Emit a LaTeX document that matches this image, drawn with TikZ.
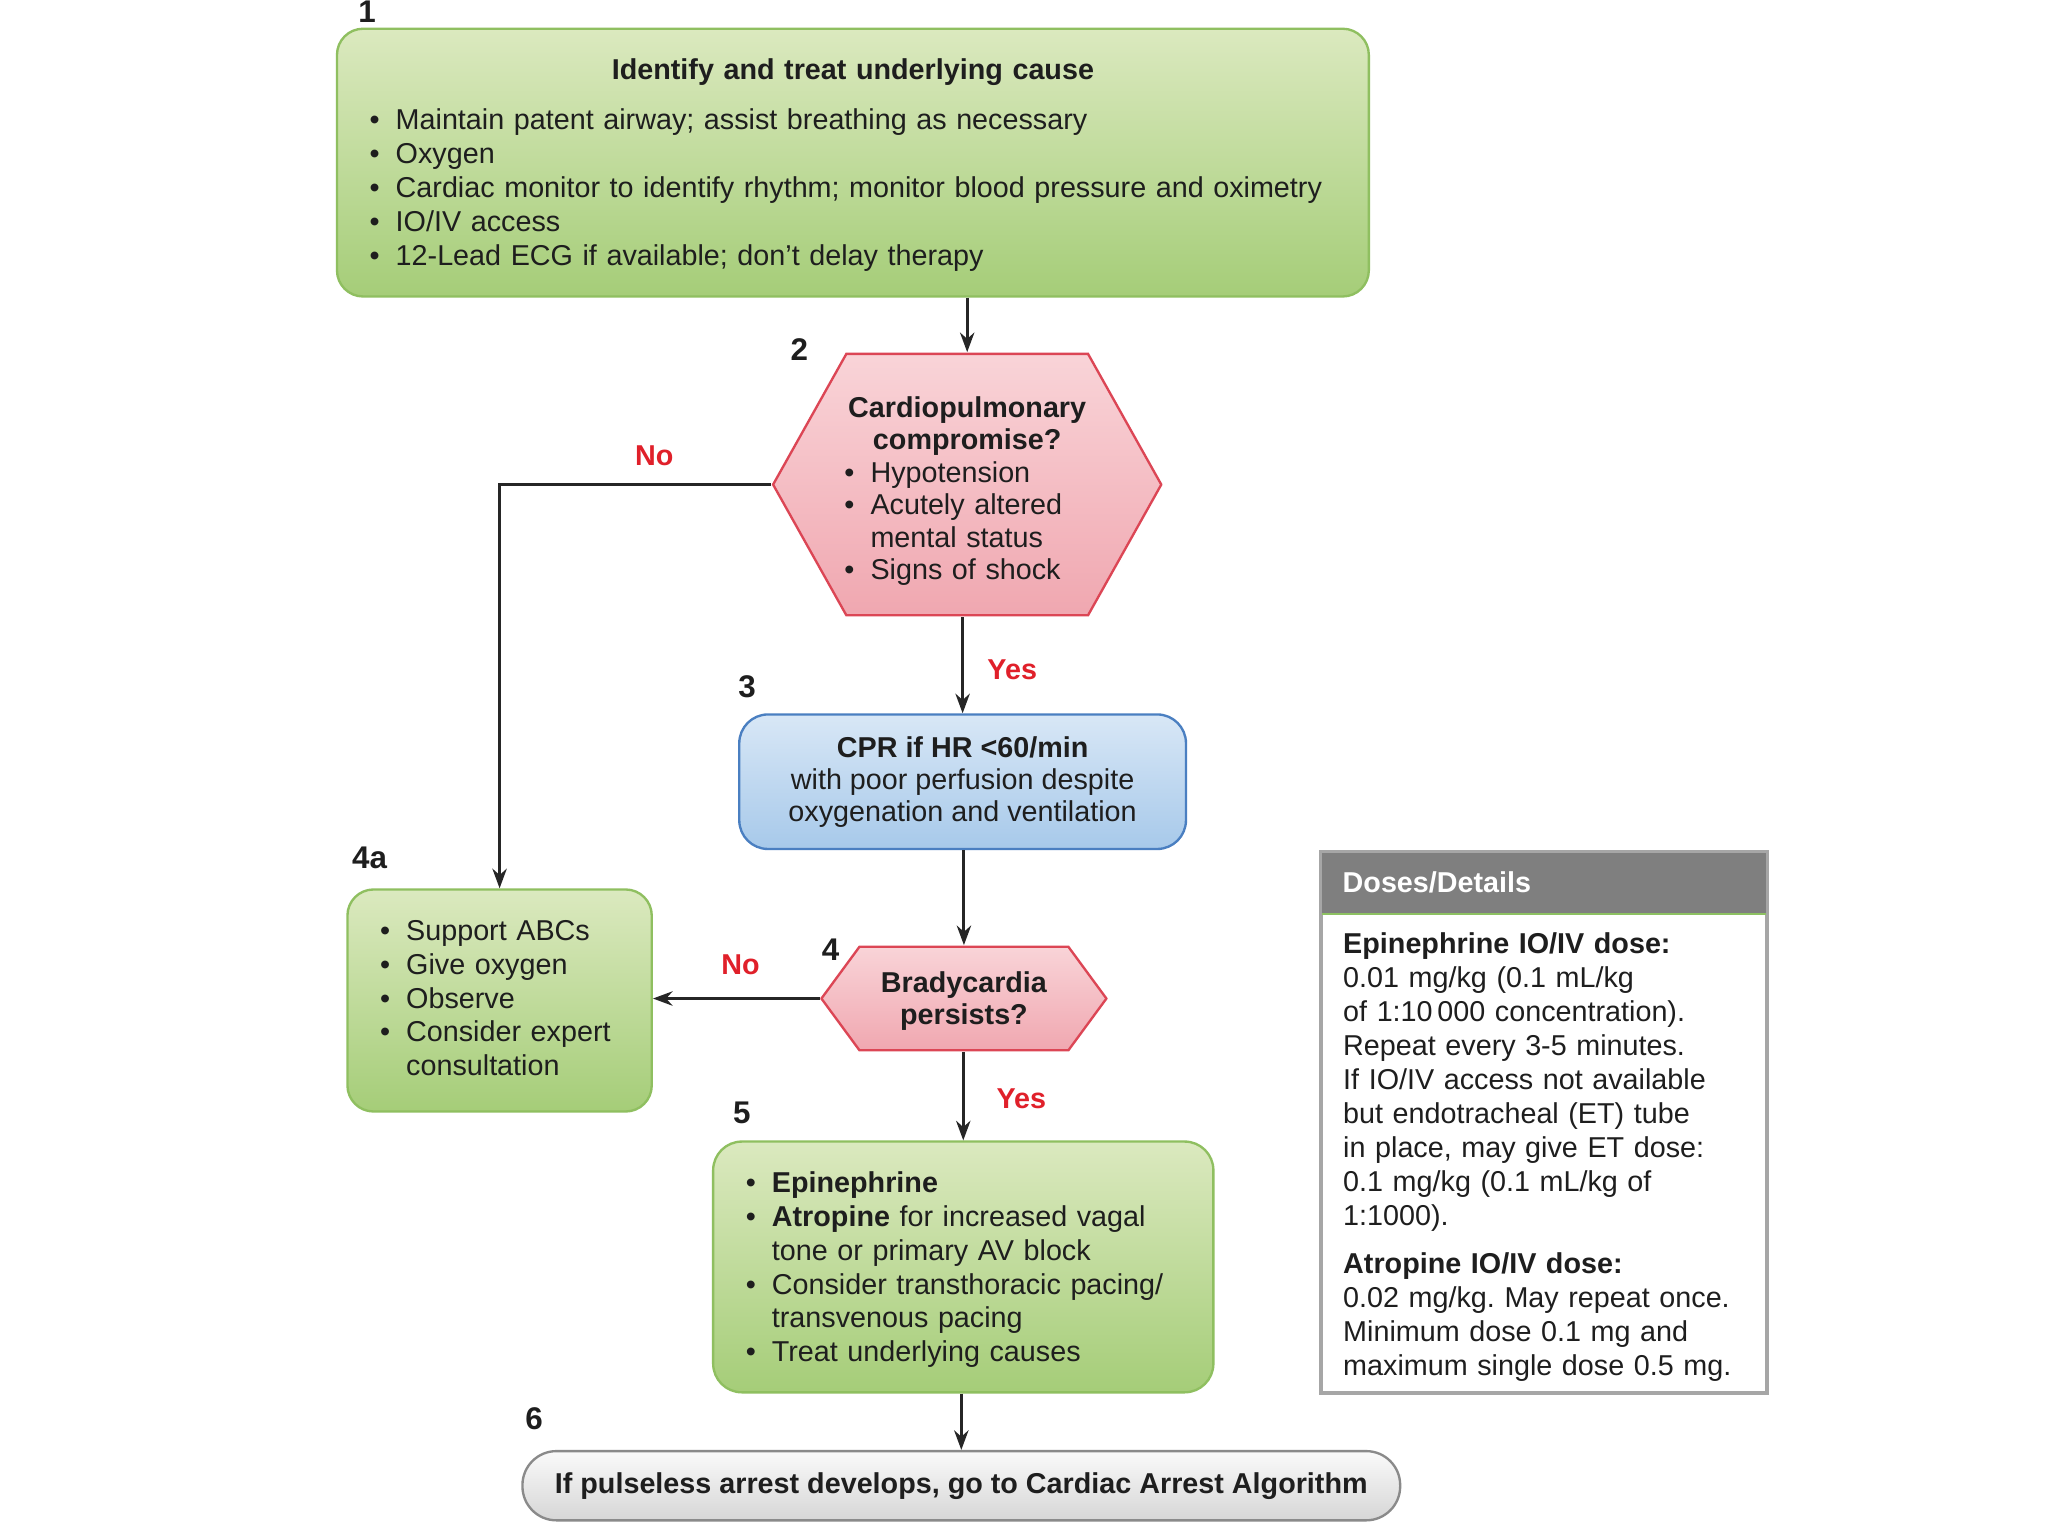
\documentclass[tikz,border=0pt]{standalone}
\usepackage{fontspec}
\setmainfont{Liberation Sans}
\usetikzlibrary{arrows.meta}
\hyphenpenalty=10000
\exhyphenpenalty=10000
\frenchspacing
\definecolor{grnt}{HTML}{DBE9BF}
\definecolor{grnbot}{HTML}{A5CD78}
\definecolor{grnline}{HTML}{8FBF60}
\definecolor{pinkt}{HTML}{F9D4D8}
\definecolor{pinkb}{HTML}{F0A7B0}
\definecolor{pinkline}{HTML}{DC4655}
\definecolor{bluet}{HTML}{D8E7F6}
\definecolor{blueb}{HTML}{A7C9EA}
\definecolor{blueline}{HTML}{4A7FC1}
\definecolor{grayt}{HTML}{FAFAFA}
\definecolor{grayb}{HTML}{D6D6D6}
\definecolor{grayline}{HTML}{8A8A8A}
\definecolor{hdrgray}{HTML}{7F7F7F}
\definecolor{hdrline}{HTML}{8DC162}
\definecolor{doseborder}{HTML}{A6A6A6}
\definecolor{lblred}{HTML}{E0202A}
\definecolor{txt}{HTML}{1E1E1E}
\newcommand\bitem[1]{\par\noindent\hangindent=10pt\hangafter=1\makebox[10pt][l]{\textbullet}#1\par}
\newcommand\lbrk{\hfil\break}
\newcommand\topgap[1]{\rule{0pt}{#1}}
\newcommand\botgap[1]{\par\vspace{#1}\hrule height0pt width0pt}
\tikzset{
  txtbase/.style={font=\fontsize{11}{13}\selectfont, text=txt, inner sep=0pt},
  greenbox/.style={txtbase, rounded corners=10pt, draw=grnline, line width=0.9pt, top color=grnt, bottom color=grnbot},
  bluebox/.style={txtbase, rounded corners=11pt, draw=blueline, line width=0.9pt, top color=bluet, bottom color=blueb},
  graybox/.style={txtbase, rounded corners=13pt, draw=grayline, line width=0.9pt, top color=grayt, bottom color=grayb},
  hexa/.style={txtbase, fill=white, path picture={
    \shade[top color=pinkt, bottom color=pinkb, draw=pinkline, line width=0.9pt]
      ([xshift=#1, yshift=-0.45pt]path picture bounding box.north west) --
      ([xshift=-#1, yshift=-0.45pt]path picture bounding box.north east) --
      ([xshift=-0.45pt]path picture bounding box.east) --
      ([xshift=-#1, yshift=0.45pt]path picture bounding box.south east) --
      ([xshift=#1, yshift=0.45pt]path picture bounding box.south west) --
      ([xshift=0.45pt]path picture bounding box.west) -- cycle;
  }},
  numlbl/.style={font=\fontsize{12}{14}\selectfont\bfseries, text=txt, inner sep=0pt},
  yesno/.style={font=\fontsize{11}{13}\selectfont\bfseries, text=lblred, inner sep=0pt},
  arr/.style={-{Stealth[length=7.5pt,width=5.5pt]}, line width=1.1pt, draw=black!85}
}
\begin{document}
\begin{tikzpicture}[x=0.5pt, y=-0.5pt]
\fill[white] (0,0) rectangle (1568,1176);
\useasboundingbox (0,0) rectangle (1568,1176);

% 1
\node[greenbox, minimum width=395pt, minimum height=102.5pt, text width=370pt, align=left] (n1) at (653,124.5) {%
\makebox[\linewidth]{\topgap{10pt}\bfseries Identify and treat underlying cause}\par\vspace{6pt}%
\bitem{Maintain patent airway; assist breathing as necessary}%
\bitem{Oxygen}%
\bitem{Cardiac monitor to identify rhythm; monitor blood pressure and oximetry}%
\bitem{IO/IV access}%
\bitem{12-Lead ECG if available; don\char"27 t delay therapy}};

% 2
\node[hexa=28.5pt, minimum width=149.5pt, minimum height=101pt, text width=94pt, align=left, font=\fontsize{11}{12.4}\selectfont] (n2) at (740.5,371) {%
\makebox[\linewidth]{\topgap{13pt}\bfseries Cardiopulmonary}\par
\makebox[\linewidth]{\bfseries compromise?}\par
\bitem{Hypotension}%
\bitem{Acutely altered\lbrk mental status}%
\bitem{Signs of shock}};

% 3
\node[bluebox, minimum width=171pt, minimum height=51.5pt, align=center, font=\fontsize{11}{12.3}\selectfont] (n3) at (737,598.5) {%
{\bfseries CPR if HR <60/min}\\with poor perfusion despite\\oxygenation and ventilation};

% 4
\node[hexa=15pt, minimum width=110pt, minimum height=40.5pt, text width=100pt, align=center, font=\fontsize{11}{12.5}\selectfont\bfseries] (n4) at (738,764.5) {\topgap{10pt}Bradycardia\\persists?};

% 4a
\node[greenbox, minimum width=116.5pt, minimum height=85pt, text width=91.5pt, align=left, font=\fontsize{11}{12.9}\selectfont] (n4a) at (382.5,766) {%
\bitem{Support ABCs}%
\bitem{Give oxygen}%
\bitem{Observe}%
\bitem{Consider expert\lbrk consultation}\botgap{7pt}};

% 5
\node[greenbox, rounded corners=11pt, minimum width=191.5pt, minimum height=96pt, text width=166.5pt, align=left] (n5) at (737.5,970) {%
\bitem{\textbf{Epinephrine}}%
\bitem{\textbf{Atropine} for increased vagal\lbrk tone or primary AV block}%
\bitem{Consider transthoracic pacing/\lbrk transvenous pacing}%
\bitem{Treat underlying causes}\botgap{3pt}};

% 6
\node[graybox, minimum width=336pt, minimum height=26.5pt, font=\fontsize{11}{13}\selectfont\bfseries] (n6) at (736,1137.5) {If pulseless arrest develops, go to Cardiac Arrest Algorithm};

% Doses / Details
\node[draw=doseborder, fill=white, line width=1pt, minimum width=170pt, minimum height=206.5pt, inner sep=0pt] (n7) at (1182,859.5) {};
\node[fill=hdrgray, anchor=north, minimum width=170pt, minimum height=23.5pt, inner sep=0pt, text width=154pt, align=left, font=\fontsize{11}{13}\selectfont\bfseries, text=white] (n7h) at (n7.north) {Doses/Details};
\draw[hdrline, line width=1pt] (n7h.south west) -- (n7h.south east);
\draw[doseborder, line width=1pt] (n7.north west) rectangle (n7.south east);
\node[txtbase, anchor=north west, text width=160pt, align=left] (n7t) at (1028,714) {%
{\bfseries Epinephrine IO/IV dose:}\\
0.01 mg/kg (0.1 mL/kg\\
of 1:10\,000 concentration).\\
Repeat every 3-5 minutes.\\
If IO/IV access not available\\
but endotracheal (ET) tube\\
in place, may give ET dose:\\
0.1 mg/kg (0.1 mL/kg of\\
1:1000).\\[5.5pt]
{\bfseries Atropine IO/IV dose:}\\
0.02 mg/kg. May repeat once.\\
Minimum dose 0.1 mg and\\
maximum single dose 0.5 mg.};

% connectors
\draw[arr] (n1.south -| n2.north) -- (n2.north);
\draw[arr] (n2.west) -| (n4a.north);
\draw[arr] (n3.north |- n2.south) -- (n3.north);
\draw[arr] (n4.north |- n3.south) -- (n4.north);
\draw[arr] (n4.west) -- (n4.west -| n4a.east);
\draw[arr] (n5.north |- n4.south) -- (n5.north);
\draw[arr] (n6.north |- n5.south) -- (n6.north);

% labels
\node[numlbl] (l1) at (281,9) {1};
\node[numlbl] (l2) at (612,268) {2};
\node[numlbl] (l3) at (572,526) {3};
\node[numlbl] (l4a) at (283,657) {4a};
\node[numlbl] (l4) at (636,727) {4};
\node[numlbl] (l5) at (568,852) {5};
\node[numlbl] (l6) at (409,1086) {6};
\node[yesno] (no1) at (501,349) {No};
\node[yesno] (yes1) at (775,513) {Yes};
\node[yesno] (no2) at (567,739) {No};
\node[yesno] (yes2) at (782,841) {Yes};
\end{tikzpicture}
\end{document}
